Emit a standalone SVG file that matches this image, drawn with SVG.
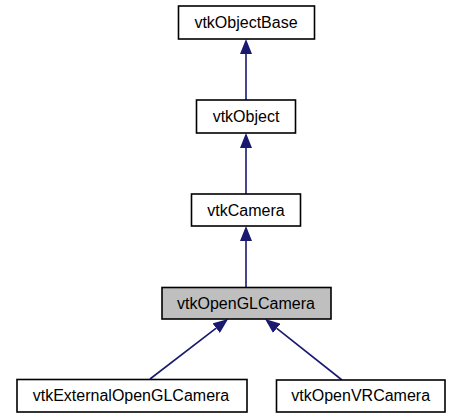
<svg xmlns="http://www.w3.org/2000/svg" width="472" height="420" viewBox="0 0 472 420">
<defs>
<style>
.box{fill:#ffffff;stroke:#000000;stroke-width:1.6}
.hl{fill:#bfbfbf;stroke:#000000;stroke-width:1.6}
.lbl{font-family:"Liberation Sans",Arial,sans-serif;font-size:16px;fill:#000000;text-anchor:middle}
.edge{stroke:#191970;stroke-width:1.6;fill:none;marker-end:url(#ah)}
</style>
<marker id="ah" markerUnits="userSpaceOnUse" markerWidth="15" markerHeight="12" viewBox="0 0 15 12" refX="0" refY="6" orient="auto">
<path d="M0,0 L15,6 L0,12 z" fill="#191970"/>
</marker>
</defs>
<rect width="472" height="420" fill="#ffffff"/>
<g id="edges">
<line class="edge" x1="246" y1="100" x2="246" y2="54"/>
<line class="edge" x1="246" y1="194" x2="246" y2="148"/>
<line class="edge" x1="246" y1="287" x2="246" y2="241"/>
<line class="edge" x1="150" y1="379" x2="216.2" y2="328.2"/>
<line class="edge" x1="342" y1="380" x2="276.8" y2="328.3"/>
</g>
<g id="vtkObjectBase">
<rect class="box" x="178.5" y="6" width="136" height="33"/>
<text class="lbl" x="246" y="28.2">vtkObjectBase</text>
</g>
<g id="vtkObject">
<rect class="box" x="196.5" y="100" width="99" height="33"/>
<text class="lbl" x="246" y="122.2">vtkObject</text>
</g>
<g id="vtkCamera">
<rect class="box" x="191.5" y="194" width="109" height="32"/>
<text class="lbl" x="246" y="215.7">vtkCamera</text>
</g>
<g id="vtkOpenGLCamera">
<rect class="hl" x="162" y="287.5" width="169" height="31.5"/>
<text class="lbl" x="246" y="308.5">vtkOpenGLCamera</text>
</g>
<g id="vtkExternalOpenGLCamera">
<rect class="box" x="17" y="379.5" width="230" height="32.5"/>
<text class="lbl" x="131" y="401">vtkExternalOpenGLCamera</text>
</g>
<g id="vtkOpenVRCamera">
<rect class="box" x="276.5" y="380" width="168.5" height="32"/>
<text class="lbl" x="360.7" y="401.3">vtkOpenVRCamera</text>
</g>
</svg>
